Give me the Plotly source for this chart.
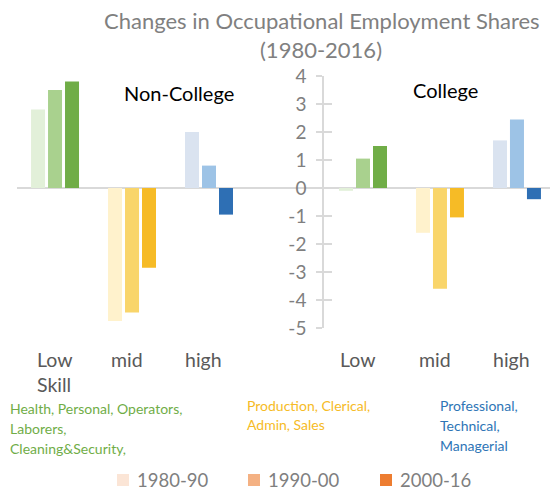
import plotly.graph_objects as go

# ---------------- data ----------------
positions = [0, 1, 2, 4, 5, 6]          # Non-College Low/mid/high, College Low/mid/high
cat_labels = ["Low<br>Skill", "mid", "high", "Low", "mid", "high"]
periods = ["1980-90", "1990-00", "2000-16"]

v_1980_90 = [2.8, -4.75, 2.0, -0.1, -1.6, 1.7]
v_1990_00 = [3.5, -4.45, 0.8, 1.05, -3.6, 2.45]
v_2000_16 = [3.8, -2.85, -0.95, 1.5, -1.05, -0.4]

yticks = [-5, -4, -3, -2, -1, 0, 1, 2, 3, 4]

# colours per skill group (light, medium, dark)
green = ["#e2f0d9", "#a9d18e", "#70ad47"]
yellow = ["#fff2cc", "#f9d56a", "#f6bb26"]
blue = ["#dae3f0", "#9dc3e6", "#2e6fb4"]
legend_colors = ["#fbe5d6", "#f4b183", "#ed7d31"]

# page offset (default body margin of the html page)
OFF = 8
W, H = 558 - OFF, 492 - OFF
FONT = "Lato"

def px_x(p):
    return (p - OFF) / W

def px_y(p):
    return 1 - (p - OFF) / H

fig = go.Figure()
series = [v_1980_90, v_1990_00, v_2000_16]
for i, vals in enumerate(series):
    cols = [green[i], yellow[i], blue[i], green[i], yellow[i], blue[i]]
    fig.add_trace(go.Bar(x=positions, y=vals, marker=dict(color=cols, line=dict(width=0)),
                         showlegend=False, name=periods[i]))
# invisible trace on the overlay axis so its cross ticks render
fig.add_trace(go.Scatter(x=[None], y=[None], yaxis="y2", showlegend=False))

fig.update_layout(
    width=W, height=H,
    margin=dict(l=0, r=0, t=0, b=0, autoexpand=False),
    paper_bgcolor="white", plot_bgcolor="white",
    barmode="group", bargap=0.338, bargroupgap=0.176,
    showlegend=False,
    font=dict(family=FONT, color="#7f7f7f"),
    xaxis=dict(domain=[px_x(17), px_x(555)], range=[-0.494, 6.494],
               showgrid=False, zeroline=False, showticklabels=False, showline=False,
               fixedrange=True),
    yaxis=dict(domain=[px_y(328), px_y(76)], range=[-5, 4], anchor="free",
               position=px_x(323), showgrid=False, zeroline=True, zerolinecolor="#d9d9d9",
               zerolinewidth=1.5, showline=True, linecolor="#d9d9d9", linewidth=1.5,
               ticks="outside", ticklen=6, tickcolor="#d9d9d9", tickwidth=1.5,
               tickvals=yticks, ticktext=[str(t) for t in yticks],
               tickfont=dict(size=19, color="#7f7f7f", family=FONT),
               ticklabelstandoff=6, automargin=False),
    yaxis2=dict(domain=[px_y(328), px_y(76)], range=[-5, 4], anchor="free",
                position=px_x(323), overlaying="y", showgrid=False, zeroline=False,
                showline=False, ticks="inside", ticklen=8, tickcolor="#d9d9d9", tickwidth=1.5,
                tickvals=yticks, showticklabels=False, automargin=False),
)

ann = []
shapes = []
ann.append(dict(text="Changes in Occupational Employment Shares",
                x=px_x(322), y=px_y(21), xanchor="center", yanchor="middle",
                font=dict(size=22, color="#808080", family=FONT)))
ann.append(dict(text="(1980-2016)",
                x=px_x(321), y=px_y(49), xanchor="center", yanchor="middle",
                font=dict(size=22, color="#808080", family=FONT)))
ann.append(dict(text="Non-College", x=px_x(179), y=px_y(93), xanchor="center", yanchor="middle",
                font=dict(size=20, color="#000000", family=FONT)))
ann.append(dict(text="College", x=px_x(445), y=px_y(90), xanchor="center", yanchor="middle",
                font=dict(size=20, color="#000000", family=FONT)))

# category labels under the bars (data x, slightly left of the group centre)
for k, (lab, pos) in enumerate(zip(cat_labels, positions)):
    shift = 0.0 if k == 0 else -0.07
    ann.append(dict(text=lab, x=pos + shift, xref="x", y=px_y(346), yref="paper",
                    xanchor="center", yanchor="top", align="left",
                    font=dict(size=19.5, color="#595959", family=FONT)))

def text_lines(lines, x_px, y_px_list, color):
    for line, yp in zip(lines, y_px_list):
        ann.append(dict(text=line, x=px_x(x_px), y=px_y(yp), xanchor="left", yanchor="middle",
                        font=dict(size=14, color=color, family=FONT)))

text_lines(["Health, Personal, Operators,", "Laborers,", "Cleaning&Security,"],
           8, [408, 428, 448], "#70ad47")
text_lines(["Production, Clerical,", "Admin, Sales"], 245, [405, 424], "#f6bb26")
text_lines(["Professional,", "Technical,", "Managerial"], 438, [405, 425, 445], "#2e75b6")

# legend (period colour keys)
legend_sq_x = [117, 248, 380]
for p, c, sx in zip(periods, legend_colors, legend_sq_x):
    shapes.append(dict(type="rect", xref="paper", yref="paper",
                       x0=px_x(sx), x1=px_x(sx + 12), y0=px_y(486), y1=px_y(474),
                       fillcolor=c, line=dict(width=0)))
    ann.append(dict(text=p, x=px_x(sx + 18), y=px_y(480), xanchor="left", yanchor="middle",
                    font=dict(size=18.5, color="#7f7f7f", family=FONT)))

for a in ann:
    a.setdefault("xref", "paper")
    a.setdefault("yref", "paper")
    a["showarrow"] = False
fig.update_layout(annotations=ann, shapes=shapes)

fig.write_html("out.html")
